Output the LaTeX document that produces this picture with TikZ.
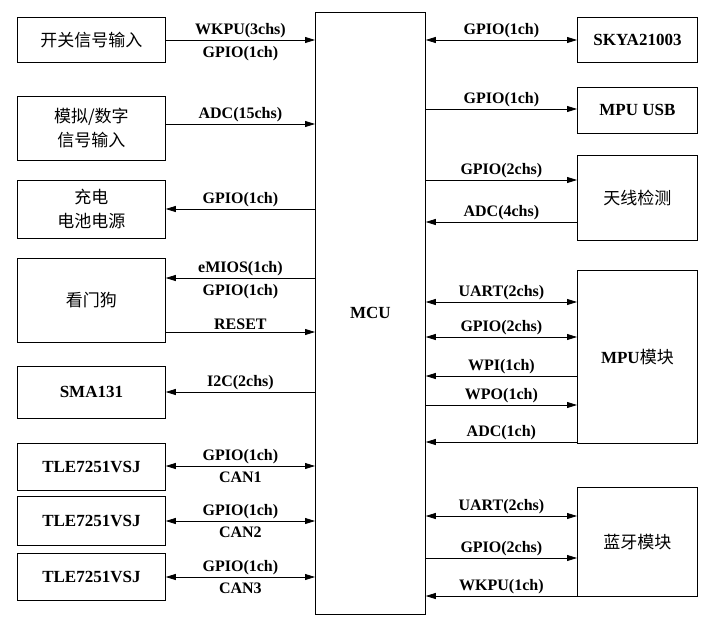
\documentclass[tikz,border=0pt]{standalone}
\usepackage{fontspec}
\setmainfont{Liberation Serif}
\newfontfamily\cjk{Noto Sans CJK SC}
\usetikzlibrary{arrows.meta}
\begin{document}
\begin{tikzpicture}[x=1pt,y=-1pt,
 box/.style={draw,line width=0.8pt,inner sep=0pt,anchor=north west,align=center,font=\cjk\fontsize{17}{24}\selectfont},
 en/.style={font=\bfseries\fontsize{17}{20}\selectfont},
 ln/.style={line width=0.8pt,-{Triangle[length=10pt,width=6pt]}},
 bi/.style={line width=0.8pt,{Triangle[length=10pt,width=6pt]}-{Triangle[length=10pt,width=6pt]}},
 lb/.style={font=\bfseries\fontsize{16}{18}\selectfont,inner sep=1.5pt},
 bl/.style={lb,below=4pt}]
\useasboundingbox (0,0) rectangle (711,623);
\node[box,en,minimum width=110pt,minimum height=602pt] (mcu) at (315,12) {MCU};
% left boxes
\node[box,minimum width=148pt,minimum height=45pt] (l1) at (17,17) {开关信号输入};
\node[box,minimum width=148pt,minimum height=64pt] (l2) at (17,96) {模拟/数字\\信号输入};
\node[box,minimum width=148pt,minimum height=58pt] (l3) at (17,180) {充电\\电池电源};
\node[box,minimum width=148pt,minimum height=84pt] (l4) at (17,258) {看门狗};
\node[box,en,minimum width=148pt,minimum height=52pt] (l5) at (17,366) {SMA131};
\node[box,en,minimum width=148pt,minimum height=47pt] (l6) at (17,443) {TLE7251VSJ};
\node[box,en,minimum width=148pt,minimum height=49pt] (l7) at (17,496) {TLE7251VSJ};
\node[box,en,minimum width=148pt,minimum height=47pt] (l8) at (17,553) {TLE7251VSJ};
% right boxes
\node[box,en,minimum width=120pt,minimum height=45pt] (r1) at (577,17) {SKYA21003};
\node[box,en,minimum width=120pt,minimum height=46pt] (r2) at (577,87) {MPU USB};
\node[box,minimum width=120pt,minimum height=85pt] (r3) at (577,155) {天线检测};
\node[box,minimum width=120pt,minimum height=173pt] (r4) at (577,270) {{\bfseries\rmfamily MPU}模块};
\node[box,minimum width=120pt,minimum height=109pt] (r5) at (577,487) {蓝牙模块};
% left connectors
\draw[ln] (l1.east|-0,40) -- node[lb,above]{WKPU(3chs)} node[bl]{GPIO(1ch)} (mcu.west|-0,40);
\draw[ln] (l2.east|-0,124) -- node[lb,above]{ADC(15chs)} (mcu.west|-0,124);
\draw[ln] (mcu.west|-0,209) -- node[lb,above]{GPIO(1ch)} (l3.east|-0,209);
\draw[ln] (mcu.west|-0,278) -- node[lb,above]{eMIOS(1ch)} node[bl]{GPIO(1ch)} (l4.east|-0,278);
\draw[ln] (l4.east|-0,332) -- node[lb,above]{RESET} (mcu.west|-0,332);
\draw[ln] (mcu.west|-0,392) -- node[lb,above]{I2C(2chs)} (l5.east|-0,392);
\draw[bi] (l6.east|-0,466) -- node[lb,above]{GPIO(1ch)} node[bl]{CAN1} (mcu.west|-0,466);
\draw[bi] (l7.east|-0,521) -- node[lb,above]{GPIO(1ch)} node[bl]{CAN2} (mcu.west|-0,521);
\draw[bi] (l8.east|-0,577) -- node[lb,above]{GPIO(1ch)} node[bl]{CAN3} (mcu.west|-0,577);
% right connectors
\draw[bi] (mcu.east|-0,40) -- node[lb,above]{GPIO(1ch)} (r1.west|-0,40);
\draw[ln] (mcu.east|-0,109) -- node[lb,above]{GPIO(1ch)} (r2.west|-0,109);
\draw[ln] (mcu.east|-0,180) -- node[lb,above]{GPIO(2chs)} (r3.west|-0,180);
\draw[ln] (r3.west|-0,222) -- node[lb,above]{ADC(4chs)} (mcu.east|-0,222);
\draw[bi] (mcu.east|-0,302) -- node[lb,above]{UART(2chs)} (r4.west|-0,302);
\draw[bi] (mcu.east|-0,337) -- node[lb,above]{GPIO(2chs)} (r4.west|-0,337);
\draw[ln] (r4.west|-0,376) -- node[lb,above]{WPI(1ch)} (mcu.east|-0,376);
\draw[ln] (mcu.east|-0,405) -- node[lb,above]{WPO(1ch)} (r4.west|-0,405);
\draw[ln] (r4.west|-0,442) -- node[lb,above]{ADC(1ch)} (mcu.east|-0,442);
\draw[bi] (mcu.east|-0,516) -- node[lb,above]{UART(2chs)} (r5.west|-0,516);
\draw[ln] (mcu.east|-0,558) -- node[lb,above]{GPIO(2chs)} (r5.west|-0,558);
\draw[ln] (r5.west|-0,596) -- node[lb,above]{WKPU(1ch)} (mcu.east|-0,596);
\end{tikzpicture}
\end{document}
